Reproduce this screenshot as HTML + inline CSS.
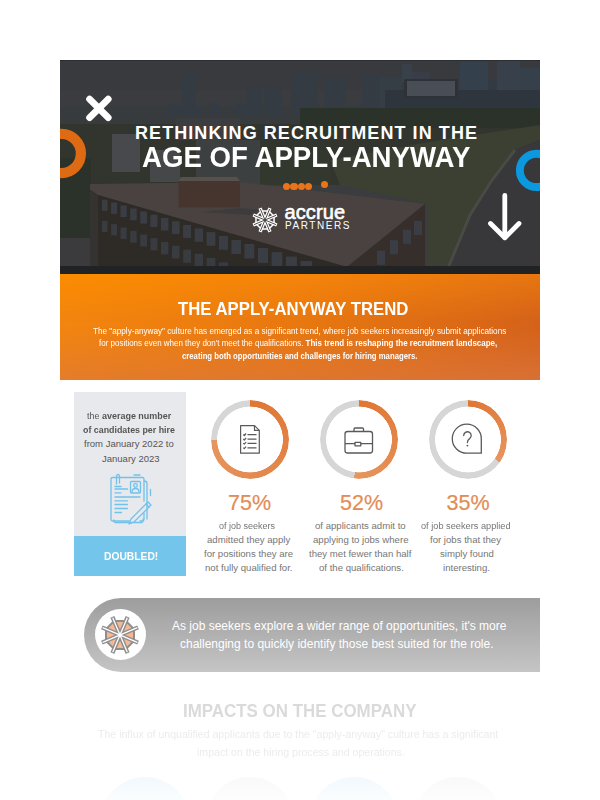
<!DOCTYPE html>
<html><head><meta charset="utf-8">
<style>
*{margin:0;padding:0;box-sizing:border-box}
html,body{width:600px;height:800px;background:#fff;overflow:hidden;font-family:"Liberation Sans",sans-serif}
.a{position:absolute;white-space:nowrap;line-height:1;transform-origin:0 0}
.c{text-align:center}
#hdr{left:60px;top:60px;width:480px;height:214px;overflow:hidden;background:#3b3e43}
#org{left:60px;top:274px;width:480px;height:106px;background:linear-gradient(165deg,#f88d0c 0%,#ef8014 45%,#da6e28 100%)}
.t1{font-weight:bold;font-size:18px;letter-spacing:1.07px;color:#fff}
.t2{font-weight:bold;font-size:29px;color:#fff}
.dot{position:absolute;width:7.2px;height:7.2px;border-radius:50%;background:#ec7418}
.ot{font-weight:bold;font-size:18px;color:#fff}
.op{font-size:8.7px;color:#fff}
.gt{font-size:9.5px;color:#555}
.pct{font-size:21.5px;color:#e28d57;-webkit-text-stroke:0.2px #e28d57}
.desc{font-size:9.6px;color:#767676}
.bt{font-size:12px;color:#fff}
.it{font-weight:bold;font-size:18px;color:#dadada}
.ip{font-size:11px;color:#ececec}
</style></head><body>
<div id="hdr" class="a">
<svg width="480" height="214" viewBox="0 0 480 214" style="position:absolute;left:0;top:0">
 <defs><filter id="bl" x="-5%" y="-5%" width="110%" height="110%"><feGaussianBlur stdDeviation="0.7"/></filter></defs>
 <rect width="480" height="214" fill="#3b3c40"/>
 <rect width="480" height="30" fill="#393a3e"/>
 <g filter="url(#bl)">
 <rect x="0.0" y="46.0" width="480.0" height="22.0" fill="#393a3d"/>
 <rect x="122.0" y="12.8" width="14.0" height="43.2" fill="#343a43"/>
 <rect x="106.0" y="44.8" width="14.0" height="11.2" fill="#343a43"/>
 <rect x="136.0" y="46.0" width="7.0" height="10.0" fill="#343a43"/>
 <rect x="150.0" y="43.0" width="9.0" height="13.0" fill="#343a43"/>
 <rect x="176.0" y="43.0" width="9.0" height="13.0" fill="#343a43"/>
 <rect x="186.0" y="27.0" width="16.0" height="29.0" fill="#343a43"/>
 <rect x="204.0" y="26.0" width="18.0" height="30.0" fill="#343a43"/>
 <rect x="231.0" y="12.0" width="27.0" height="44.0" fill="#343a43"/>
 <rect x="264.0" y="17.0" width="22.0" height="39.0" fill="#343a43"/>
 <rect x="302.0" y="14.0" width="24.0" height="42.0" fill="#343a43"/>
 <rect x="320.0" y="18.0" width="22.0" height="34.0" fill="#353c45"/>
 <rect x="342.0" y="4.0" width="10.0" height="18.0" fill="#383f48"/>
 <rect x="352.0" y="12.0" width="18.0" height="10.0" fill="#383e46"/>
 <rect x="400.0" y="0.0" width="28.0" height="40.0" fill="#35414e"/>
 <rect x="437.0" y="0.0" width="23.0" height="38.0" fill="#37414c"/>
 <rect x="460.0" y="8.0" width="20.0" height="30.0" fill="#36404c"/>
 <rect x="428.0" y="20.0" width="9.0" height="18.0" fill="#333a42"/>
 <rect x="325.0" y="30.0" width="155.0" height="24.0" fill="#2f353c"/>
 <rect x="344.0" y="19.0" width="54.0" height="19.0" fill="#2d3238"/>
 <rect x="347.0" y="21.0" width="48.0" height="15.0" fill="#4a4e54"/>
 <rect x="0.0" y="64.0" width="480.0" height="61.0" fill="#30352f"/>
 <rect x="240.0" y="48.0" width="240.0" height="20.0" fill="#2b312b"/>
 <rect x="52.0" y="74.0" width="28.0" height="38.0" fill="#474a4d"/>
 <rect x="116.0" y="58.0" width="64.0" height="22.0" fill="#3b3e40"/>
 <rect x="136.0" y="80.0" width="64.0" height="45.0" fill="#3c3f41"/>
 <rect x="90.0" y="90.0" width="30.0" height="32.0" fill="#44474a"/>
 <rect x="200.0" y="90.0" width="70.0" height="35.0" fill="#33382f"/>
 <rect x="0.0" y="98.0" width="31.0" height="82.0" fill="#2b302b"/>
 <rect x="0.0" y="178.0" width="31.0" height="30.0" fill="#3b3b3e"/>
 <polygon points="270.0,100.0 380.0,80.0 480.0,65.0 480.0,80.0 455.0,90.0 432.0,120.0 410.0,155.0 388.0,208.0 367.0,208.0 367.0,144.0 280.0,125.0" fill="#3a3f33"/>
 <polygon points="455.0,90.0 480.0,80.0 480.0,208.0 388.0,208.0 410.0,155.0 432.0,120.0" fill="#37383b"/>
 <polyline points="388,208 410,155 432,120 455,90" fill="none" stroke="#4a4a45" stroke-width="3"/>
 <polygon points="30.0,124.0 180.0,122.0 365.0,144.0 287.0,207.0 38.0,135.0 30.0,130.0" fill="#48433f"/>
 <polygon points="30.0,130.0 38.0,135.0 287.0,207.0 287.0,208.0 30.0,208.0" fill="#2e2927"/>
 <polygon points="30.0,130.0 38.0,135.0 38.0,208.0 30.0,208.0" fill="#353030"/>
 <polygon points="287.0,207.0 365.0,144.0 365.0,208.0 287.0,208.0" fill="#342f2c"/>
 <polygon points="180.0,148.0 200.0,150.0 190.0,155.0 140.0,152.0" fill="#3d3b3b"/>
 <rect x="118.5" y="121.0" width="61.5" height="26.5" fill="#45362f"/>
 <polygon points="118.5,121.0 180.0,121.0 177.0,117.0 121.0,117.0" fill="#57514c"/>
 <rect x="42.0" y="139.7" width="5.6" height="11.1" fill="#3b3e44"/>
 <rect x="42.0" y="160.9" width="5.6" height="11.1" fill="#383b40"/>
 <rect x="51.1" y="142.6" width="5.9" height="11.3" fill="#3b3e44"/>
 <rect x="51.1" y="164.1" width="5.9" height="11.3" fill="#383b40"/>
 <rect x="60.5" y="145.5" width="6.2" height="11.6" fill="#3b3e44"/>
 <rect x="60.5" y="167.5" width="6.2" height="11.6" fill="#383b40"/>
 <rect x="70.2" y="148.5" width="6.5" height="11.8" fill="#3b3e44"/>
 <rect x="70.2" y="170.9" width="6.5" height="11.8" fill="#383b40"/>
 <rect x="80.2" y="151.5" width="6.8" height="12.1" fill="#3b3e44"/>
 <rect x="80.2" y="174.4" width="6.8" height="12.1" fill="#383b40"/>
 <rect x="90.4" y="154.7" width="7.1" height="12.3" fill="#3b3e44"/>
 <rect x="90.4" y="178.1" width="7.1" height="12.3" fill="#383b40"/>
 <rect x="101.0" y="158.0" width="7.4" height="12.6" fill="#3b3e44"/>
 <rect x="101.0" y="181.8" width="7.4" height="12.6" fill="#383b40"/>
 <rect x="111.9" y="161.3" width="7.7" height="12.8" fill="#3b3e44"/>
 <rect x="111.9" y="185.7" width="7.7" height="12.8" fill="#383b40"/>
 <rect x="123.1" y="164.8" width="8.1" height="13.1" fill="#3b3e44"/>
 <rect x="123.1" y="189.6" width="8.1" height="13.1" fill="#383b40"/>
 <rect x="134.7" y="168.4" width="8.4" height="13.4" fill="#3b3e44"/>
 <rect x="134.7" y="193.7" width="8.4" height="13.4" fill="#383b40"/>
 <rect x="146.6" y="172.1" width="8.8" height="13.7" fill="#3b3e44"/>
 <rect x="146.6" y="197.9" width="8.8" height="10.1" fill="#383b40"/>
 <rect x="158.8" y="175.8" width="9.1" height="14.0" fill="#3b3e44"/>
 <rect x="158.8" y="202.3" width="9.1" height="5.7" fill="#383b40"/>
 <rect x="171.4" y="179.8" width="9.5" height="14.3" fill="#3b3e44"/>
 <rect x="184.4" y="183.8" width="9.9" height="14.7" fill="#3b3e44"/>
 <rect x="197.8" y="187.9" width="10.3" height="15.0" fill="#3b3e44"/>
 <rect x="211.6" y="192.2" width="10.7" height="15.3" fill="#3b3e44"/>
 <rect x="225.8" y="196.6" width="11.1" height="15.7" fill="#3b3e44"/>
 <rect x="240.5" y="201.1" width="11.6" height="16.1" fill="#3b3e44"/>
 <rect x="255.5" y="205.8" width="12.0" height="16.4" fill="#3b3e44"/>
 <rect x="271.1" y="210.6" width="12.5" height="16.8" fill="#3b3e44"/>
 <rect x="317.0" y="190.8" width="8.0" height="14.0" fill="#3b3e44"/>
 <rect x="330.0" y="180.3" width="8.0" height="14.0" fill="#3b3e44"/>
 <rect x="343.0" y="169.8" width="8.0" height="14.0" fill="#3b3e44"/>
 <rect x="354.0" y="160.9" width="8.0" height="14.0" fill="#3b3e44"/>
 </g>
 <rect x="0" y="0" width="480" height="1" fill="#2c2d30"/>
 <rect x="0" y="206" width="480" height="8" fill="#212223"/>
 <!-- rings (clipped by header) -->
 <circle cx="1.3" cy="93.5" r="19.6" fill="none" stroke="#df6a14" stroke-width="10.2"/>
 <circle cx="476.5" cy="110.4" r="16.65" fill="none" stroke="#0b98df" stroke-width="7.9"/>
 <!-- X -->
 <g stroke="#fff" stroke-width="6.8" stroke-linecap="round"><line x1="29.6" y1="39.2" x2="48.2" y2="57.6"/><line x1="48.2" y1="39.2" x2="29.6" y2="57.6"/></g>
 <!-- arrow -->
 <g stroke="#fff" stroke-width="4.8" fill="none" stroke-linecap="round" stroke-linejoin="round"><line x1="444.8" y1="135.4" x2="444.8" y2="177.5"/><polyline points="430.5,163.5 444.8,177.8 459,163.5"/></g>
</svg>
</div>
<div class="a t1" style="left:135px;top:124px">RETHINKING RECRUITMENT IN THE</div>
<div class="a t2" style="left:142.3px;top:142.5px;transform:scaleX(0.952)">AGE OF APPLY-ANYWAY</div>
<div class="dot" style="left:282.9px;top:182.9px"></div>
<div class="dot" style="left:290.4px;top:182.9px"></div>
<div class="dot" style="left:297.6px;top:182.9px"></div>
<div class="dot" style="left:304.9px;top:182.9px"></div>
<div class="dot" style="left:320.6px;top:180.6px"></div>
<!-- logo -->
<svg class="a" style="left:251px;top:205.6px" width="28" height="28" viewBox="-14 -14 28 28"><polygon points="9.03,-3.80 3.80,-9.03 -3.80,-9.03 -9.03,-3.80 -9.03,3.80 -3.80,9.03 3.80,9.03 9.03,3.80" fill="none" stroke="#fff" stroke-width="1.5" stroke-linejoin="round"/><g stroke="#fff" stroke-width="3.4"><line x1="-4.96" y1="11.80" x2="4.96" y2="-11.80"/><line x1="4.96" y1="11.80" x2="-4.96" y2="-11.80"/><line x1="-11.80" y1="4.96" x2="11.80" y2="-4.96"/><line x1="-11.80" y1="-4.96" x2="11.80" y2="4.96"/></g><g stroke="#3a3838" stroke-width="0.9"><line x1="-4.65" y1="11.06" x2="4.65" y2="-11.06"/><line x1="4.65" y1="11.06" x2="-4.65" y2="-11.06"/><line x1="-11.06" y1="4.65" x2="11.06" y2="-4.65"/><line x1="-11.06" y1="-4.65" x2="11.06" y2="4.65"/></g></svg>
<div class="a" style="left:284.5px;top:201.5px;font-size:20px;color:#fff;letter-spacing:0.1px;-webkit-text-stroke:0.6px #fff">accrue</div>
<div class="a" style="left:285px;top:221px;font-size:10px;color:#fff;letter-spacing:1.55px">PARTNERS</div>

<div class="a" style="left:60px;top:274px;width:480px;height:106px;background:linear-gradient(90deg,#f38510,#e8780f 50%,#d5621a)"></div>
<div class="a" style="left:60px;top:274px;width:480px;height:106px;background:linear-gradient(90deg,#fb8c00,#f5850a 50%,#e77611);-webkit-mask-image:linear-gradient(180deg,#000 0%,transparent 45%)"></div>
<div class="a" style="left:60px;top:274px;width:480px;height:106px;background:linear-gradient(90deg,#e47c2a,#df762e 50%,#d87035);-webkit-mask-image:linear-gradient(180deg,transparent 50%,#000 100%)"></div>
<div class="a ot" style="left:178px;top:300px;transform:scaleX(0.93)">THE APPLY-ANYWAY TREND</div>
<div class="a op" style="left:93px;top:326.5px;transform:scaleX(0.9386)">The "apply-anyway" culture has emerged as a significant trend, where job seekers increasingly submit applications</div>
<div class="a op" style="left:99px;top:339.3px;transform:scaleX(0.919)">for positions even when they don't meet the qualifications. <b>This trend is reshaping the recruitment landscape,</b></div>
<div class="a op" style="left:182px;top:352.1px;transform:scaleX(0.89)"><b>creating both opportunities and challenges for hiring managers.</b></div>

<div class="a" style="left:74px;top:392px;width:112px;height:144px;background:#e8e9ed"></div>
<div class="a" style="left:74px;top:536px;width:112px;height:40px;background:#74c5eb"></div>
<div class="a gt" style="left:87px;top:411px;transform:scaleX(0.944)">the <b>average number</b></div>
<div class="a gt" style="left:83px;top:425px;transform:scaleX(0.931)"><b>of candidates per hire</b></div>
<div class="a gt" style="left:84px;top:439.3px">from January 2022 to</div>
<div class="a gt" style="left:102px;top:453.6px">January 2023</div>
<!-- doc icon -->
<svg class="a" style="left:100px;top:468px" width="60" height="60" viewBox="0 0 60 60">
 <g stroke="#72c1ea" stroke-width="1.3" fill="none" stroke-linejoin="round" stroke-linecap="round">
  <path d="M43,51 L43,53 Q43,54.5 41.5,54.5 L15.5,54.5 Q14,54.5 14,53 L14,52"/>
  <path d="M44,13 Q47,13 47,15.5 L47,51"/>
  <path d="M29,53 L12.5,53 Q11,53 11,51.5 L11,11 Q11,9.5 12.5,9.5 L42.5,9.5 Q44,9.5 44,11 L44,33"/>
  <path d="M44,45 L44,51.5 Q44,53 42.5,53 L40,53"/>
  <rect x="30.5" y="13.5" width="10" height="11.5" rx="1"/>
  <circle cx="35.5" cy="17.5" r="1.8"/>
  <path d="M32,24 Q32,20.5 35.5,20.5 Q39,20.5 39,24"/>
  <path d="M15,18.5 L21,18.5 M15,21 L27.5,21 M15,24.8 L21,24.8 M15,29 L40,29 M15,32.8 L27.5,32.8 M15,36.5 L27.5,36.5 M15,40.5 L27.5,40.5 M15,44.5 L21.5,44.5"/>
  <path d="M16.5,16 L16.5,8.5 Q16.5,6.5 18,6.5 Q19.5,6.5 19.5,8.5 L19.5,15"/>
  <path d="M48,34 L51,37 L34,54 L29,56 L31,51 Z"/>
  <path d="M46,36 L49,39"/>
  <path d="M34,7 L40,7 M50.5,21.5 L50.5,27.5"/>
 </g>
</svg>
<div class="a" style="left:104px;top:550.5px;font-size:11px;font-weight:bold;color:#fff;transform:scaleX(0.935)">DOUBLED!</div>

<!-- rings -->
<div class="a" style="left:210.7px;top:400.0px;width:78.6px;height:78.6px;border-radius:50%;background:conic-gradient(#df7634 0deg,#e69660 270deg,#d6d6d6 270deg);-webkit-mask-image:radial-gradient(circle closest-side,transparent 32.6px,#000 33.2px)"></div>
<div class="a" style="left:319.9px;top:400.0px;width:78.6px;height:78.6px;border-radius:50%;background:conic-gradient(#df7634 0deg,#e69660 187.2deg,#d6d6d6 187.2deg);-webkit-mask-image:radial-gradient(circle closest-side,transparent 32.6px,#000 33.2px)"></div>
<div class="a" style="left:428.7px;top:400.0px;width:78.6px;height:78.6px;border-radius:50%;background:conic-gradient(#df7634 0deg,#e69660 126deg,#d6d6d6 126deg);-webkit-mask-image:radial-gradient(circle closest-side,transparent 32.6px,#000 33.2px)"></div>
<svg class="a" style="left:0;top:390px" width="600" height="100">
 <!-- checklist doc -->
 <g stroke="#5a5a5a" stroke-width="1.2" fill="none" stroke-linejoin="round">
  <path d="M240.6,35.6 L254.5,35.6 L259.3,40.4 L259.3,63.2 L240.6,63.2 Z"/>
  <path d="M254.5,35.6 L254.5,40.4 L259.3,40.4"/>
  <path d="M247.5,44.7 L256.5,44.7 M247.5,49.2 L256.5,49.2 M247.5,53.3 L256.5,53.3 M247.5,57.8 L256.5,57.8" stroke-width="1.3"/>
  <path d="M243.3,44.5 l1,1 l1.8,-2 M243.3,49 l1,1 l1.8,-2 M243.3,53.1 l1,1 l1.8,-2 M243.3,57.6 l1,1 l1.8,-2"/>
 </g>
 <!-- briefcase -->
 <g stroke="#5a5a5a" stroke-width="1.3" fill="none" stroke-linejoin="round">
  <rect x="345" y="41.5" width="27.5" height="21.5" rx="2.5"/>
  <path d="M354,41.5 L354,39 Q354,38 355,38 L362.5,38 Q363.5,38 363.5,39 L363.5,41.5"/>
  <path d="M345,53.7 L355,53.7 M360.8,53.7 L372.5,53.7"/>
  <rect x="355" y="52.3" width="5.8" height="3.5"/>
 </g>
 <!-- question bubble -->
 <path d="M481.3,48.8 A14.5,14.5 0 1 0 466.8,63.2 L481.3,63.2 Z" stroke="#5a5a5a" stroke-width="1.3" fill="none"/>
 <path d="M463.7,45.6 A3.75,3.75 0 1 1 469.6,48.6 Q467.4,50.2 467.4,52.6" stroke="#5a5a5a" stroke-width="1.3" fill="none" stroke-linecap="round"/>
 <circle cx="467.4" cy="55.6" r="0.95" fill="#5a5a5a"/>
</svg>
<div class="a pct" style="left:228px;top:492.8px">75%</div>
<div class="a pct" style="left:340px;top:492.8px">52%</div>
<div class="a pct" style="left:446.5px;top:492.8px">35%</div>
<div class="a desc" style="left:219px;top:521px;transform:scaleX(0.938)">of job seekers</div>
<div class="a desc" style="left:207px;top:535px">admitted they apply</div>
<div class="a desc" style="left:204px;top:549px">for positions they are</div>
<div class="a desc" style="left:205px;top:563px">not fully qualified for.</div>
<div class="a desc" style="left:315px;top:521px">of applicants admit to</div>
<div class="a desc" style="left:313px;top:535px">applying to jobs where</div>
<div class="a desc" style="left:309px;top:549px">they met fewer than half</div>
<div class="a desc" style="left:319px;top:563px">of the qualifications.</div>
<div class="a desc" style="left:421px;top:521px;transform:scaleX(0.96)">of job seekers applied</div>
<div class="a desc" style="left:430px;top:535px">for jobs that they</div>
<div class="a desc" style="left:440px;top:549px">simply found</div>
<div class="a desc" style="left:443px;top:563px">interesting.</div>

<div class="a" style="left:84px;top:597.5px;width:456px;height:74.5px;border-radius:37px 0 0 37px;background:linear-gradient(180deg,#9d9d9d,#c5c5c5)"></div>
<div class="a" style="left:94.5px;top:609.3px;width:51px;height:51px;border-radius:50%;background:#fff"></div>
<svg class="a" style="left:100px;top:614.7px" width="40" height="40" viewBox="-20 -20 40 40"><polygon points="14.01,-5.89 5.89,-14.01 -5.89,-14.01 -14.01,-5.89 -14.01,5.89 -5.89,14.01 5.89,14.01 14.01,5.89" fill="#f4b994" stroke="#8e8e8e" stroke-width="2" stroke-linejoin="round"/><g stroke="#8e8e8e" stroke-width="4.2"><line x1="-7.60" y1="18.07" x2="7.60" y2="-18.07"/><line x1="7.60" y1="18.07" x2="-7.60" y2="-18.07"/><line x1="-18.07" y1="7.60" x2="18.07" y2="-7.60"/><line x1="-18.07" y1="-7.60" x2="18.07" y2="7.60"/></g><g stroke="#fff" stroke-width="1.3"><line x1="-7.29" y1="17.33" x2="7.29" y2="-17.33"/><line x1="7.29" y1="17.33" x2="-7.29" y2="-17.33"/><line x1="-17.33" y1="7.29" x2="17.33" y2="-7.29"/><line x1="-17.33" y1="-7.29" x2="17.33" y2="7.29"/></g></svg>
<div class="a bt" style="left:172px;top:620px">As job seekers explore a wider range of opportunities, it's more</div>
<div class="a bt" style="left:180px;top:638px">challenging to quickly identify those best suited for the role.</div>

<div class="a it" style="left:183px;top:702px;transform:scaleX(0.94)">IMPACTS ON THE COMPANY</div>
<div class="a ip" style="left:98px;top:729.3px;transform:scaleX(0.96)">The influx of unqualified applicants due to the "apply-anyway" culture has a significant</div>
<div class="a ip" style="left:197px;top:746.6px;transform:scaleX(0.96)">impact on the hiring process and operations.</div>
<!-- faint circles -->
<div class="a" style="left:100px;top:777px;width:90px;height:90px;border-radius:50%;background:linear-gradient(180deg,#f2f8fd 0px,#f6fbfe 12px,#fcfeff 26px)"></div>
<div class="a" style="left:204.5px;top:777px;width:90px;height:90px;border-radius:50%;background:linear-gradient(180deg,#f9f9f9 0px,#fbfbfb 12px,#fefefe 26px)"></div>
<div class="a" style="left:309px;top:777px;width:90px;height:90px;border-radius:50%;background:linear-gradient(180deg,#f2f8fd 0px,#f6fbfe 12px,#fcfeff 26px)"></div>
<div class="a" style="left:413px;top:777px;width:90px;height:90px;border-radius:50%;background:linear-gradient(180deg,#f9f9f9 0px,#fbfbfb 12px,#fefefe 26px)"></div>
</body></html>
